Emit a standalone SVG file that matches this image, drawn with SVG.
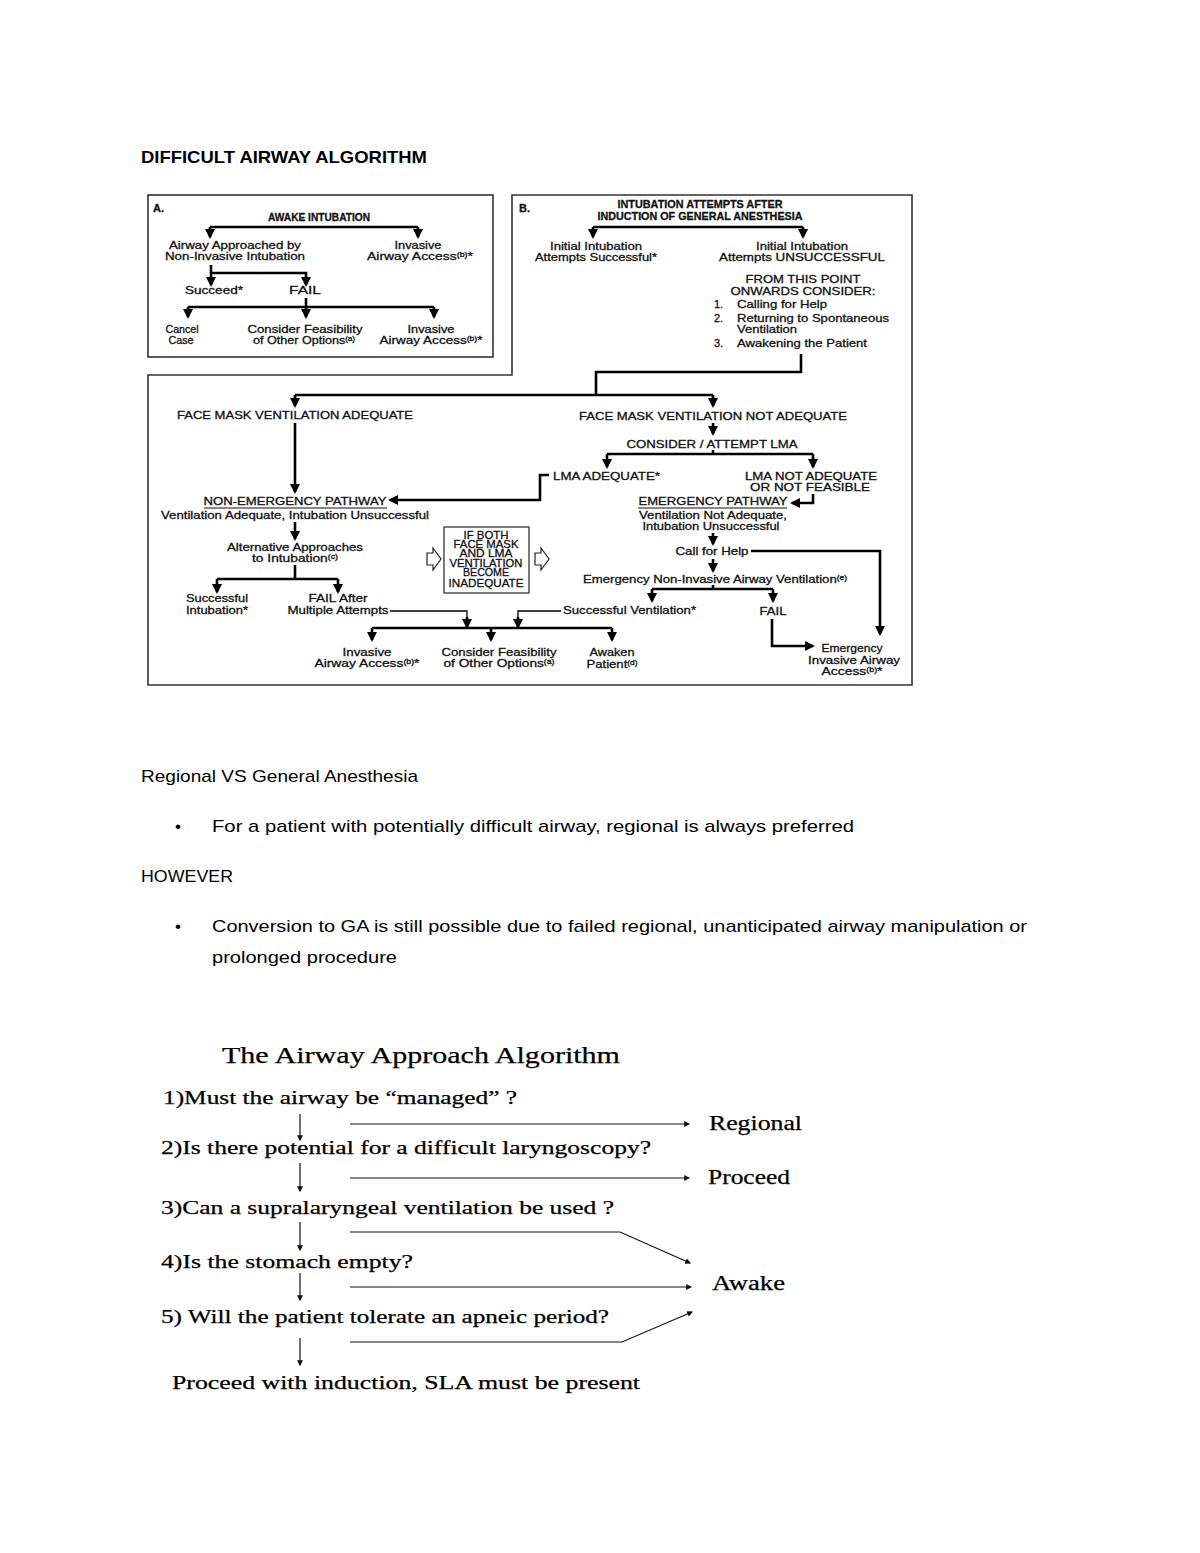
<svg xmlns="http://www.w3.org/2000/svg" width="1200" height="1553" viewBox="0 0 1200 1553">
<style>
.t{font-family:"Liberation Sans",Arial,Helvetica,sans-serif;font-size:11px;fill:#111;stroke:#111;stroke-width:0.3}
.b{font-weight:bold}
.sup{font-size:7px}
.frame{fill:none;stroke:#333;stroke-width:1.6}
.c{fill:none;stroke:#000;stroke-width:2.6}
.cn{fill:none;stroke:#000;stroke-width:1.3}
.ul{stroke:#111;stroke-width:1}
.hol{fill:#fff;stroke:#222;stroke-width:1.2}
.doc{font-family:"Liberation Sans",Arial,sans-serif;font-size:17px;fill:#000}
.ser{font-family:"Liberation Serif","Times New Roman",serif;fill:#000;stroke:#000;stroke-width:0.25}
.th{fill:none;stroke:#111;stroke-width:1.2}
</style>
<defs>
<marker id="ah" viewBox="0 0 10 10" refX="8" refY="5" markerWidth="10" markerHeight="10" markerUnits="userSpaceOnUse" orient="auto"><path d="M0,0 L10,5 L0,10 z" fill="#000"/></marker>
<marker id="as" viewBox="0 0 10 10" refX="8" refY="5" markerWidth="6" markerHeight="6" markerUnits="userSpaceOnUse" orient="auto"><path d="M0,0 L10,5 L0,10 z" fill="#111"/></marker>
</defs>
<rect width="1200" height="1553" fill="#fff"/>

<g id="title">
<text x="141" y="163" class="doc b" font-size="16" textLength="286" lengthAdjust="spacingAndGlyphs">DIFFICULT AIRWAY ALGORITHM</text>
</g>

<g id="frames">
<rect x="148" y="195" width="345" height="162" class="frame"/>
<path d="M512,195 H912 V685 H148 V375 H512 Z" class="frame"/>
</g>

<g id="boxA">
<text x="153" y="212" class="t b" font-size="10">A.</text>
<text x="319" y="221" class="t b" text-anchor="middle" textLength="102" lengthAdjust="spacingAndGlyphs">AWAKE INTUBATION</text>
</g>
<g id="a-noninvasive">
<text x="235" y="249" class="t" text-anchor="middle" textLength="132" lengthAdjust="spacingAndGlyphs">Airway Approached by</text>
<text x="235" y="260" class="t" text-anchor="middle" textLength="140" lengthAdjust="spacingAndGlyphs">Non-Invasive Intubation</text>
</g>
<g id="a-invasive">
<text x="418" y="249" class="t" text-anchor="middle" textLength="47" lengthAdjust="spacingAndGlyphs">Invasive</text>
<text x="420" y="260" class="t" text-anchor="middle" textLength="106" lengthAdjust="spacingAndGlyphs">Airway Access<tspan class="sup" dy="-3">(b)</tspan><tspan dy="3">*</tspan></text>
</g>
<g id="a-succeed"><text x="214" y="294" class="t" text-anchor="middle" textLength="58" lengthAdjust="spacingAndGlyphs">Succeed*</text></g>
<g id="a-fail"><text x="305" y="294" class="t" text-anchor="middle" textLength="32" lengthAdjust="spacingAndGlyphs">FAIL</text></g>
<g id="a-cancel">
<text x="182" y="333" class="t" text-anchor="middle" textLength="33" lengthAdjust="spacingAndGlyphs">Cancel</text>
<text x="181" y="344" class="t" text-anchor="middle" textLength="25" lengthAdjust="spacingAndGlyphs">Case</text>
</g>
<g id="a-consider">
<text x="305" y="333" class="t" text-anchor="middle" textLength="115" lengthAdjust="spacingAndGlyphs">Consider Feasibility</text>
<text x="304" y="344" class="t" text-anchor="middle" textLength="102" lengthAdjust="spacingAndGlyphs">of Other Options<tspan class="sup" dy="-3">(a)</tspan></text>
</g>
<g id="a-invasive2">
<text x="431" y="333" class="t" text-anchor="middle" textLength="47" lengthAdjust="spacingAndGlyphs">Invasive</text>
<text x="431" y="344" class="t" text-anchor="middle" textLength="103" lengthAdjust="spacingAndGlyphs">Airway Access<tspan class="sup" dy="-3">(b)</tspan><tspan dy="3">*</tspan></text>
</g>

<g id="boxB">
<text x="519" y="212" class="t b" font-size="10">B.</text>
<text x="700" y="208" class="t b" text-anchor="middle" textLength="165" lengthAdjust="spacingAndGlyphs">INTUBATION ATTEMPTS AFTER</text>
<text x="700" y="220" class="t b" text-anchor="middle" textLength="205" lengthAdjust="spacingAndGlyphs">INDUCTION OF GENERAL ANESTHESIA</text>
</g>
<g id="b-success">
<text x="596" y="250" class="t" text-anchor="middle" textLength="92" lengthAdjust="spacingAndGlyphs">Initial Intubation</text>
<text x="596" y="261" class="t" text-anchor="middle" textLength="122" lengthAdjust="spacingAndGlyphs">Attempts Successful*</text>
</g>
<g id="b-unsuccess">
<text x="802" y="250" class="t" text-anchor="middle" textLength="92" lengthAdjust="spacingAndGlyphs">Initial Intubation</text>
<text x="802" y="261" class="t" text-anchor="middle" textLength="166" lengthAdjust="spacingAndGlyphs">Attempts UNSUCCESSFUL</text>
<text x="803" y="283" class="t" text-anchor="middle" textLength="115" lengthAdjust="spacingAndGlyphs">FROM THIS POINT</text>
<text x="803" y="295" class="t" text-anchor="middle" textLength="145" lengthAdjust="spacingAndGlyphs">ONWARDS CONSIDER:</text>
<text x="714" y="308" class="t">1.</text>
<text x="737" y="308" class="t" textLength="90" lengthAdjust="spacingAndGlyphs">Calling for Help</text>
<text x="714" y="322" class="t">2.</text>
<text x="737" y="322" class="t" textLength="152" lengthAdjust="spacingAndGlyphs">Returning to Spontaneous</text>
<text x="737" y="333" class="t" textLength="60" lengthAdjust="spacingAndGlyphs">Ventilation</text>
<text x="714" y="347" class="t">3.</text>
<text x="737" y="347" class="t" textLength="130" lengthAdjust="spacingAndGlyphs">Awakening the Patient</text>
</g>

<g id="fm-adequate"><text x="295" y="419" class="t" text-anchor="middle" textLength="236" lengthAdjust="spacingAndGlyphs">FACE MASK VENTILATION ADEQUATE</text></g>
<g id="fm-not"><text x="713" y="420" class="t" text-anchor="middle" textLength="268" lengthAdjust="spacingAndGlyphs">FACE MASK VENTILATION NOT ADEQUATE</text></g>
<g id="lma"><text x="712" y="448" class="t" text-anchor="middle" textLength="171" lengthAdjust="spacingAndGlyphs">CONSIDER / ATTEMPT LMA</text></g>
<g id="lma-ok"><text x="553" y="480" class="t" textLength="107" lengthAdjust="spacingAndGlyphs">LMA ADEQUATE*</text></g>
<g id="lma-not">
<text x="811" y="480" class="t" text-anchor="middle" textLength="132" lengthAdjust="spacingAndGlyphs">LMA NOT ADEQUATE</text>
<text x="810" y="491" class="t" text-anchor="middle" textLength="120" lengthAdjust="spacingAndGlyphs">OR NOT FEASIBLE</text>
</g>
<g id="emergency">
<text x="713" y="505" class="t" text-anchor="middle" textLength="149" lengthAdjust="spacingAndGlyphs">EMERGENCY PATHWAY</text>
<line x1="638" y1="508" x2="787" y2="508" class="ul"/>
<text x="713" y="519" class="t" text-anchor="middle" textLength="148" lengthAdjust="spacingAndGlyphs">Ventilation Not Adequate,</text>
<text x="711" y="530" class="t" text-anchor="middle" textLength="137" lengthAdjust="spacingAndGlyphs">Intubation Unsuccessful</text>
</g>
<g id="callhelp"><text x="712" y="555" class="t" text-anchor="middle" textLength="73" lengthAdjust="spacingAndGlyphs">Call for Help</text></g>
<g id="emerg-noninv"><text x="715" y="583" class="t" text-anchor="middle" textLength="264" lengthAdjust="spacingAndGlyphs">Emergency Non-Invasive Airway Ventilation<tspan class="sup" dy="-3">(e)</tspan></text></g>
<g id="succ-vent"><text x="563" y="614" class="t" textLength="133" lengthAdjust="spacingAndGlyphs">Successful Ventilation*</text></g>
<g id="fail-r"><text x="773" y="615" class="t" text-anchor="middle" textLength="27" lengthAdjust="spacingAndGlyphs">FAIL</text></g>
<g id="emerg-inv">
<text x="852" y="652" class="t" text-anchor="middle" textLength="61" lengthAdjust="spacingAndGlyphs">Emergency</text>
<text x="854" y="664" class="t" text-anchor="middle" textLength="92" lengthAdjust="spacingAndGlyphs">Invasive Airway</text>
<text x="852" y="675" class="t" text-anchor="middle" textLength="61" lengthAdjust="spacingAndGlyphs">Access<tspan class="sup" dy="-3">(b)</tspan><tspan dy="3">*</tspan></text>
</g>

<g id="non-emergency">
<text x="295" y="505" class="t" text-anchor="middle" textLength="183" lengthAdjust="spacingAndGlyphs">NON-EMERGENCY PATHWAY</text>
<line x1="204" y1="508" x2="387" y2="508" class="ul"/>
<text x="295" y="519" class="t" text-anchor="middle" textLength="268" lengthAdjust="spacingAndGlyphs">Ventilation Adequate, Intubation Unsuccessful</text>
</g>
<g id="alternative">
<text x="295" y="551" class="t" text-anchor="middle" textLength="136" lengthAdjust="spacingAndGlyphs">Alternative Approaches</text>
<text x="295" y="562" class="t" text-anchor="middle" textLength="86" lengthAdjust="spacingAndGlyphs">to Intubation<tspan class="sup" dy="-3">(c)</tspan></text>
</g>
<g id="succ-intub">
<text x="217" y="602" class="t" text-anchor="middle" textLength="62" lengthAdjust="spacingAndGlyphs">Successful</text>
<text x="217" y="614" class="t" text-anchor="middle" textLength="62" lengthAdjust="spacingAndGlyphs">Intubation*</text>
</g>
<g id="fail-after">
<text x="338" y="602" class="t" text-anchor="middle" textLength="59" lengthAdjust="spacingAndGlyphs">FAIL After</text>
<text x="338" y="614" class="t" text-anchor="middle" textLength="101" lengthAdjust="spacingAndGlyphs">Multiple Attempts</text>
</g>
<g id="if-both">
<rect x="444" y="527" width="85" height="66" fill="#fff" stroke="#333" stroke-width="1.3"/>
<text x="486" y="538.5" class="t" font-size="10" text-anchor="middle" textLength="45" lengthAdjust="spacingAndGlyphs">IF BOTH</text>
<text x="486" y="547.5" class="t" font-size="10" text-anchor="middle" textLength="65" lengthAdjust="spacingAndGlyphs">FACE MASK</text>
<text x="486" y="557" class="t" font-size="10" text-anchor="middle" textLength="53" lengthAdjust="spacingAndGlyphs">AND LMA</text>
<text x="486" y="566.5" class="t" font-size="10" text-anchor="middle" textLength="73" lengthAdjust="spacingAndGlyphs">VENTILATION</text>
<text x="486" y="576" class="t" font-size="10" text-anchor="middle" textLength="46" lengthAdjust="spacingAndGlyphs">BECOME</text>
<text x="486" y="586.5" class="t" font-size="10" text-anchor="middle" textLength="75" lengthAdjust="spacingAndGlyphs">INADEQUATE</text>
<path d="M427,553 H433 V548 L441,559 L433,570 V565 H427 Z" class="hol"/>
<path d="M535,553 H541 V548 L549,559 L541,570 V565 H535 Z" class="hol"/>
</g>
<g id="out-invasive">
<text x="367" y="656" class="t" text-anchor="middle" textLength="49" lengthAdjust="spacingAndGlyphs">Invasive</text>
<text x="367" y="667" class="t" text-anchor="middle" textLength="105" lengthAdjust="spacingAndGlyphs">Airway Access<tspan class="sup" dy="-3">(b)</tspan><tspan dy="3">*</tspan></text>
</g>
<g id="out-consider">
<text x="499" y="656" class="t" text-anchor="middle" textLength="115" lengthAdjust="spacingAndGlyphs">Consider Feasibility</text>
<text x="499" y="667" class="t" text-anchor="middle" textLength="111" lengthAdjust="spacingAndGlyphs">of Other Options<tspan class="sup" dy="-3">(a)</tspan></text>
</g>
<g id="out-awaken">
<text x="612" y="656" class="t" text-anchor="middle" textLength="45" lengthAdjust="spacingAndGlyphs">Awaken</text>
<text x="612" y="668" class="t" text-anchor="middle" textLength="51" lengthAdjust="spacingAndGlyphs">Patient<tspan class="sup" dy="-3">(d)</tspan></text>
</g>

<g id="connectors">
<path d="M210,227 H418" class="c"/>
<path d="M210,227 V237" class="c" marker-end="url(#ah)"/>
<path d="M418,227 V237" class="c" marker-end="url(#ah)"/>
<path d="M211,265 V285" class="c" marker-end="url(#ah)"/>
<path d="M211,273 H306 V285" class="c" marker-end="url(#ah)"/>
<path d="M306,298 V317" class="c" marker-end="url(#ah)"/>
<path d="M188,307 H434" class="c"/>
<path d="M188,307 V317" class="c" marker-end="url(#ah)"/>
<path d="M434,307 V317" class="c" marker-end="url(#ah)"/>

<path d="M593,227 H803" class="c"/>
<path d="M593,227 V237" class="c" marker-end="url(#ah)"/>
<path d="M803,227 V237" class="c" marker-end="url(#ah)"/>
<path d="M801,354 V372 H596 V395" class="c"/>
<path d="M295,395 H713" class="c"/>
<path d="M295,395 V406" class="c" marker-end="url(#ah)"/>
<path d="M713,395 V406" class="c" marker-end="url(#ah)"/>

<path d="M295,423 V492" class="c" marker-end="url(#ah)"/>
<path d="M713,423 V434" class="c" marker-end="url(#ah)"/>
<path d="M713,450 V454" class="c"/>
<path d="M607,454 H813" class="c"/>
<path d="M607,454 V467" class="c" marker-end="url(#ah)"/>
<path d="M813,454 V467" class="c" marker-end="url(#ah)"/>
<path d="M549,475 H540 V500 H390" class="c" marker-end="url(#ah)"/>
<path d="M813,494 V503 H792" class="c" marker-end="url(#ah)"/>
<path d="M713,533 V544" class="c" marker-end="url(#ah)"/>
<path d="M751,551 H880 V634" class="c" marker-end="url(#ah)"/>
<path d="M713,559 V571" class="c" marker-end="url(#ah)"/>
<path d="M713,585 V589" class="c"/>
<path d="M652,589 H773" class="c"/>
<path d="M652,589 V601" class="c" marker-end="url(#ah)"/>
<path d="M773,589 V601" class="c" marker-end="url(#ah)"/>
<path d="M772,619 V646 H813" class="c" marker-end="url(#ah)"/>

<path d="M295,522 V539" class="c" marker-end="url(#ah)"/>
<path d="M295,565 V579" class="c"/>
<path d="M217,579 H338" class="c"/>
<path d="M217,579 V592" class="c" marker-end="url(#ah)"/>
<path d="M338,579 V592" class="c" marker-end="url(#ah)"/>
<path d="M390,611 H467 V627" class="cn"/>
<path d="M467,617 V627" class="c" marker-end="url(#ah)"/>
<path d="M561,611 H518 V627" class="cn"/>
<path d="M518,617 V627" class="c" marker-end="url(#ah)"/>
<path d="M372,628 H612" class="c"/>
<path d="M372,628 V640" class="c" marker-end="url(#ah)"/>
<path d="M491,628 V640" class="c" marker-end="url(#ah)"/>
<path d="M612,628 V640" class="c" marker-end="url(#ah)"/>
</g>

<g id="notes">
<text x="141" y="782" class="doc" textLength="277" lengthAdjust="spacingAndGlyphs">Regional VS General Anesthesia</text>
<text x="175" y="832" class="doc">•</text>
<text x="212" y="832" class="doc" textLength="642" lengthAdjust="spacingAndGlyphs">For a patient with potentially difficult airway, regional is always preferred</text>
<text x="141" y="882" class="doc" textLength="92" lengthAdjust="spacingAndGlyphs">HOWEVER</text>
<text x="175" y="932" class="doc">•</text>
<text x="212" y="932" class="doc" textLength="815" lengthAdjust="spacingAndGlyphs">Conversion to GA is still possible due to failed regional, unanticipated airway manipulation or</text>
<text x="212" y="963" class="doc" textLength="185" lengthAdjust="spacingAndGlyphs">prolonged procedure</text>
</g>

<g id="approach-title"><text x="222" y="1063" class="ser" font-size="24" textLength="398" lengthAdjust="spacingAndGlyphs">The Airway Approach Algorithm</text></g>
<g id="q1"><text x="163" y="1104" class="ser" font-size="19" textLength="354" lengthAdjust="spacingAndGlyphs">1)Must the airway be “managed” ?</text></g>
<g id="regional"><text x="709" y="1130" class="ser" font-size="20" textLength="93" lengthAdjust="spacingAndGlyphs">Regional</text></g>
<g id="q2"><text x="161" y="1154" class="ser" font-size="19" textLength="490" lengthAdjust="spacingAndGlyphs">2)Is there potential for a difficult laryngoscopy?</text></g>
<g id="proceed"><text x="708" y="1184" class="ser" font-size="20" textLength="82" lengthAdjust="spacingAndGlyphs">Proceed</text></g>
<g id="q3"><text x="161" y="1214" class="ser" font-size="19" textLength="453" lengthAdjust="spacingAndGlyphs">3)Can a supralaryngeal ventilation be used ?</text></g>
<g id="q4"><text x="161" y="1268" class="ser" font-size="19" textLength="252" lengthAdjust="spacingAndGlyphs">4)Is the stomach empty?</text></g>
<g id="awake"><text x="712" y="1290" class="ser" font-size="20" textLength="73" lengthAdjust="spacingAndGlyphs">Awake</text></g>
<g id="q5"><text x="161" y="1323" class="ser" font-size="19" textLength="448" lengthAdjust="spacingAndGlyphs">5) Will the patient tolerate an apneic period?</text></g>
<g id="induction"><text x="172" y="1389" class="ser" font-size="19" textLength="468" lengthAdjust="spacingAndGlyphs">Proceed with induction, SLA must be present</text></g>

<g id="approach-connectors">
<path d="M300,1114 V1140" class="th" marker-end="url(#as)"/>
<path d="M300,1163 V1191" class="th" marker-end="url(#as)"/>
<path d="M300,1222 V1250" class="th" marker-end="url(#as)"/>
<path d="M300,1273 V1300" class="th" marker-end="url(#as)"/>
<path d="M300,1338 V1365" class="th" marker-end="url(#as)"/>
<path d="M350,1124 H689" class="th" marker-end="url(#as)"/>
<path d="M350,1178 H689" class="th" marker-end="url(#as)"/>
<path d="M350,1232 H620 L690,1263" class="th" marker-end="url(#as)"/>
<path d="M350,1287 H691" class="th" stroke-width="1.6" marker-end="url(#as)"/>
<path d="M350,1342 H622 L692,1312" class="th" marker-end="url(#as)"/>
</g>
</svg>
